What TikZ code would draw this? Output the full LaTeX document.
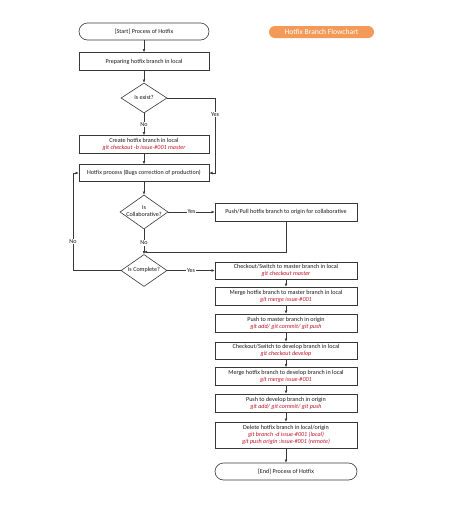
\documentclass[tikz,border=0pt]{standalone}
\usepackage{fontspec}
\setmainfont{Carlito}
\usetikzlibrary{shapes.geometric,arrows.meta}
\definecolor{cmd}{RGB}{192,20,40}
\definecolor{pill}{RGB}{244,154,88}
\definecolor{ln}{RGB}{55,55,55}
\newcommand{\dtext}[1]{\makebox[0pt]{\begin{tabular}{@{}c@{}}#1\end{tabular}}}
\newcommand{\gitc}[1]{{\color{cmd}\itshape #1}}
\begin{document}
\begin{tikzpicture}[x=1pt,y=-1pt,
  every node/.style={font=\fontsize{6.1}{7.0}\selectfont, text=black!90},
  lbox/.style={draw=ln, line width=0.6pt, minimum width=130pt, minimum height=18pt, inner sep=1pt, align=center},
  rbox/.style={draw=ln, line width=0.6pt, minimum width=142pt, minimum height=18pt, inner sep=1pt, align=center},
  term/.style={draw=ln, line width=0.6pt, rounded corners=8.5pt, minimum height=17pt, inner sep=1pt},
  dia/.style={draw=ln, line width=0.6pt, diamond, aspect=1.5, inner sep=0pt},
  conn/.style={draw=ln, line width=0.55pt, -{Latex[length=3.2pt,width=2.8pt]}},
  lab/.style={fill=white, inner sep=0.6pt}
]
\useasboundingbox[fill=white] (0,0) rectangle (474,507);

% title
\node[fill=pill, rounded corners=6pt, minimum width=105pt, minimum height=12pt, inner sep=0pt, text=white, font=\fontsize{7.6}{8}\selectfont] (title) at (321.5,32) {Hotfix Branch Flowchart};

% left column
\node[term, minimum width=130pt] (start) at (144,31.5) {[Start] Process of Hotfix};
\node[lbox] (prep) at (144,61.5) {Preparing hotfix branch in local};
\node[dia, minimum width=46pt, minimum height=30pt] (exist) at (144,98) {\dtext{Is exist?}};
\node[lbox] (create) at (144,144.5) {Create hotfix branch in local\\ \gitc{git checkout -b issue-\#001 master}};
\node[lbox, minimum height=17pt] (hotfix) at (144,173) {Hotfix process (Bugs correction of production)};
\node[dia, minimum width=48pt, minimum height=34pt] (collab) at (144,212) {\dtext{Is\\Collaborative?}};
\node[dia, minimum width=46pt, minimum height=32pt] (complete) at (144,270.5) {\dtext{Is Complete?}};

% right column
\node[rbox] (push) at (286,212) {Push/Pull hotfix branch to origin for collaborative};
\node[rbox, minimum height=17pt] (comaster) at (286,270.5) {Checkout/Switch to master branch in local\\ \gitc{git checkout master}};
\node[rbox] (mmaster) at (286,296) {Merge hotfix branch to master branch in local\\ \gitc{git merge issue-\#001}};
\node[rbox] (pmaster) at (286,323) {Push to master branch in origin\\ \gitc{git add/ git commit/ git push}};
\node[rbox, minimum height=17pt] (codev) at (286,350.5) {Checkout/Switch to develop branch in local\\ \gitc{git checkout develop}};
\node[rbox] (mdev) at (286,376.5) {Merge hotfix branch to develop branch in local\\ \gitc{git merge issue-\#001}};
\node[rbox] (pdev) at (286,403) {Push to develop branch in origin\\ \gitc{git add/ git commit/ git push}};
\node[rbox, minimum height=26pt] (del) at (286,435) {Delete hotfix branch in local/origin\\ \gitc{git branch -d issue-\#001 (local)}\\ \gitc{git push origin :issue-\#001 (remote)}};
\node[term, minimum width=142pt] (end) at (286,471.5) {[End] Process of Hotfix};

% helper coordinates
\coordinate (yesx) at (215,98);
\coordinate (join) at (144,252);
\coordinate (nox) at (73,270.5);

% connectors
\draw[conn] (start) -- (prep);
\draw[conn] (prep) -- (exist);
\draw[conn] (exist.south) -- node[lab, pos=0.53] {No} (create.north);
\draw[conn] (exist.east) -- (yesx) |- node[lab, pos=0.11] {Yes} (hotfix.east);
\draw[conn] (create) -- (hotfix);
\draw[conn] (hotfix) -- (collab.north);
\draw[conn] (collab.east) -- node[lab] {Yes} (push.west);
\draw[conn] (collab.south) -- node[lab, pos=0.55] {No} (complete.north);
\draw[conn] (push.south) |- (join);
\draw[conn] (complete.east) -- node[lab] {Yes} (comaster.west);
\draw[conn] (complete.west) -- (nox) |- node[lab, pos=0.15] {No} (hotfix.west);
\draw[conn] (comaster) -- (mmaster);
\draw[conn] (mmaster) -- (pmaster);
\draw[conn] (pmaster) -- (codev);
\draw[conn] (codev) -- (mdev);
\draw[conn] (mdev) -- (pdev);
\draw[conn] (pdev) -- (del);
\draw[conn] (del) -- (end);
\end{tikzpicture}
\end{document}
